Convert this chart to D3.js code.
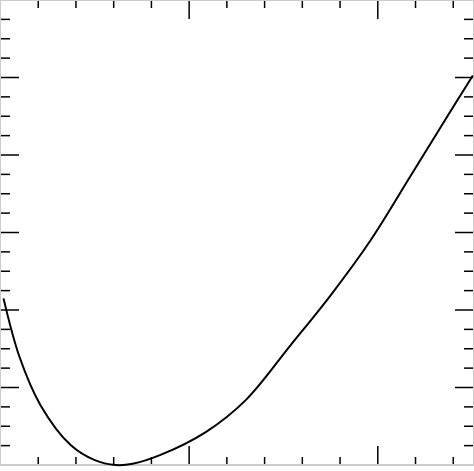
<!DOCTYPE html><html><head><script src="https://cdn.jsdelivr.net/npm/d3@7"></script>
<style>body{margin:0;background:#fff}</style></head><body><svg id="c" width="474" height="471"></svg>
<script>
const xs=[0.08,0.5,1.06,1.86,2.5,3.05,3.5,4.24,5.44,6.5,7.69,8.75,9.81,10.88,11.94,12.52];
const ys=[8.6,5.6,3.09,1.03,0.25,0.0,0.06,0.52,1.70,3.35,6.19,8.76,11.6,14.95,18.3,20.1];
const svg=d3.select("#c");
const x=d3.scaleLinear().domain([0,12.55]).range([0.5,474]);
const y=d3.scaleLinear().domain([0,24]).range([465,0]);
const xt=d3.range(1,13), yt=d3.range(1,24);
const g=svg.append("g").attr("stroke","#000").attr("stroke-width",1.5);
xt.forEach(t=>{const L=t%5==0?19:8;
 g.append("line").attr("x1",x(t)).attr("x2",x(t)).attr("y1",465).attr("y2",465-L);
 g.append("line").attr("x1",x(t)).attr("x2",x(t)).attr("y1",0).attr("y2",L);});
yt.forEach(t=>{const L=t%4==0?19:10;
 g.append("line").attr("x1",0).attr("x2",L).attr("y1",y(t)).attr("y2",y(t));
 g.append("line").attr("x1",474).attr("x2",474-L).attr("y1",y(t)).attr("y2",y(t));});
g.append("line").attr("x1",0).attr("x2",474).attr("y1",465).attr("y2",465).attr("stroke-width",2);
svg.append("rect").attr("x",0).attr("y",0).attr("width",474).attr("height",465).attr("fill","none").attr("stroke","#ccc").attr("stroke-width",2);
svg.append("path").datum(xs.map((v,i)=>[v,ys[i]])).attr("fill","none").attr("stroke","#000").attr("stroke-width",2)
 .attr("d",d3.line().x(d=>x(d[0])).y(d=>y(d[1])).curve(d3.curveCatmullRom));
</script></body></html>
